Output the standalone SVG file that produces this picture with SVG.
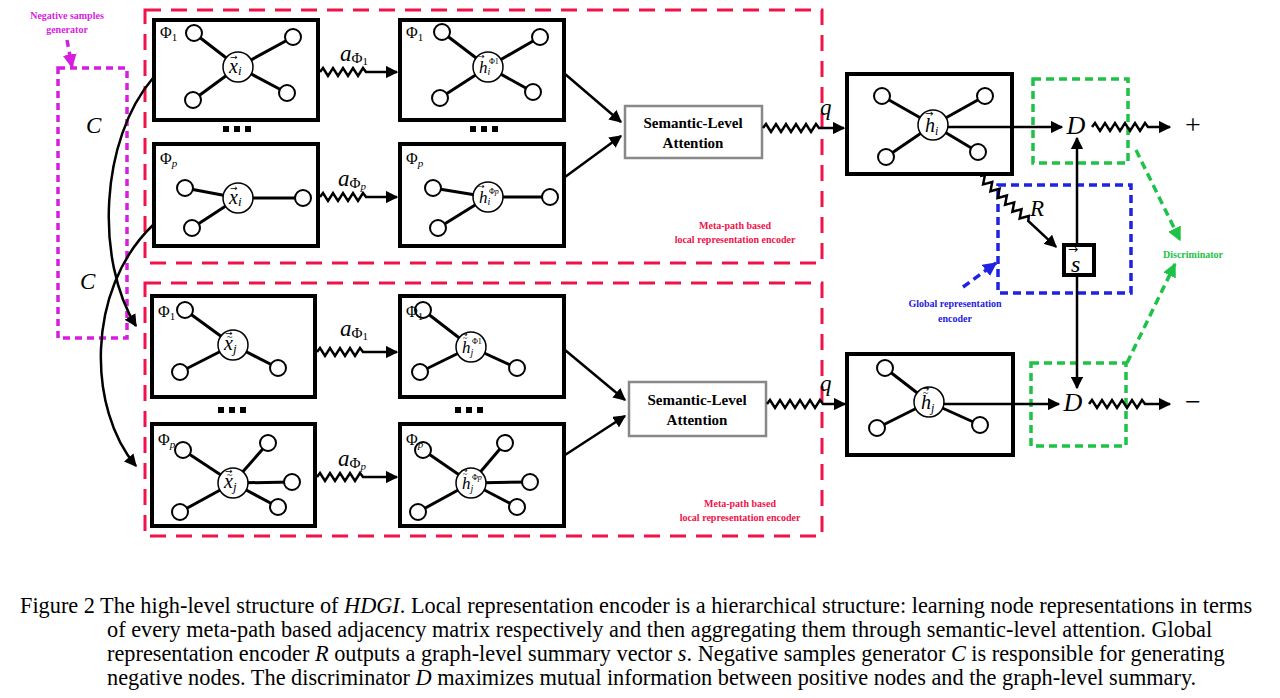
<svg xmlns="http://www.w3.org/2000/svg" width="1280" height="698" viewBox="0 0 1280 698">
<defs>
<marker id="ah" viewBox="0 0 10 10" refX="9" refY="5" markerWidth="5" markerHeight="5" orient="auto"><path d="M0,0 L10,5 L0,10 z" fill="#000"/></marker>
<marker id="ahb" viewBox="0 0 10 10" refX="9" refY="5" markerWidth="4" markerHeight="4" orient="auto"><path d="M0,0 L10,5 L0,10 z" fill="#1f22e0"/></marker>
<marker id="ahg" viewBox="0 0 10 10" refX="9" refY="5" markerWidth="4" markerHeight="4" orient="auto"><path d="M0,0 L10,5 L0,10 z" fill="#1ec247"/></marker>
<marker id="ahm" viewBox="0 0 10 10" refX="9" refY="5" markerWidth="4" markerHeight="4" orient="auto"><path d="M0,0 L10,5 L0,10 z" fill="#d61ee0"/></marker>
</defs>
<style>
.box{fill:#fff;stroke:#000;stroke-width:4}
.e{stroke:#000;stroke-width:3}
.n{fill:#fff;stroke:#000;stroke-width:2}
.c{fill:#fff;stroke:#000;stroke-width:1.5}
.red{fill:none;stroke:#f0124a;stroke-width:3;stroke-dasharray:16,10}
.grn{fill:none;stroke:#1ec247;stroke-width:3.5;stroke-dasharray:8,5}
.blu{fill:none;stroke:#1f22e0;stroke-width:3.5;stroke-dasharray:8,5}
.mag{fill:none;stroke:#d61ee0;stroke-width:3.5;stroke-dasharray:7,5}
.ln{fill:none;stroke:#000;stroke-width:2.5}
.m{font-family:"Liberation Serif",serif;font-style:italic;fill:#000}
.r{font-family:"Liberation Serif",serif;font-style:normal;fill:#000}
.v{font-family:"DejaVu Sans",sans-serif;fill:#000}
.lbl{font-family:"Liberation Serif",serif;font-weight:bold;font-size:10px;text-anchor:middle}
.att{fill:#fff;stroke:#888;stroke-width:2.5}
.attt{font-family:"Liberation Serif",serif;font-weight:bold;font-size:15px;text-anchor:middle}
.cap{font-family:"Liberation Serif",serif;font-size:22.3px;fill:#000}
.dot{fill:#000}
</style>

<g id="regions">
<rect class="red" x="145" y="10" width="677" height="253"/>
<rect class="red" x="145" y="283" width="677" height="253"/>
<text class="lbl" fill="#f0124a" x="735" y="229">Meta-path based</text>
<text class="lbl" fill="#f0124a" x="735" y="243">local representation encoder</text>
<text class="lbl" fill="#f0124a" x="740" y="507">Meta-path based</text>
<text class="lbl" fill="#f0124a" x="740" y="521">local representation encoder</text>
<rect class="mag" x="58" y="68" width="69" height="270"/>
<text class="lbl" fill="#d61ee0" x="67" y="19">Negative samples</text>
<text class="lbl" fill="#d61ee0" x="67" y="33">generator</text>
<rect class="grn" x="1033" y="79" width="95" height="84"/>
<rect class="grn" x="1031" y="363" width="95" height="83"/>
<rect class="blu" x="998" y="185" width="133" height="108"/>
<text class="lbl" fill="#1f22e0" x="955" y="307">Global representation</text>
<text class="lbl" fill="#1f22e0" x="955" y="322">encoder</text>
<text class="lbl" fill="#1ec247" x="1193" y="258">Discriminator</text>
</g>

<g id="box_xi_1">
<rect class="box" x="154" y="20" width="164" height="100"/>
<line class="e" x1="238" y1="67" x2="194" y2="33"/><line class="e" x1="238" y1="67" x2="293" y2="37"/><line class="e" x1="238" y1="67" x2="193" y2="100"/><line class="e" x1="238" y1="67" x2="287" y2="93"/>
<circle class="n" cx="194" cy="33" r="8"/><circle class="n" cx="293" cy="37" r="8"/><circle class="n" cx="193" cy="100" r="8"/><circle class="n" cx="287" cy="93" r="8"/>
<circle class="c" cx="238" cy="67" r="15"/>
<text class="m" x="229" y="73" font-size="20">x<tspan font-size="13" dy="2">i</tspan></text><text class="v" x="230" y="60" font-size="9">→</text>
<text class="r" x="160" y="38" font-size="16">Φ<tspan font-size="11" dy="3">1</tspan></text>
</g>
<g id="box_xi_p">
<rect class="box" x="154" y="144" width="164" height="102"/>
<line class="e" x1="238" y1="198" x2="185" y2="188"/><line class="e" x1="238" y1="198" x2="192" y2="228"/><line class="e" x1="238" y1="198" x2="303" y2="198"/>
<circle class="n" cx="185" cy="188" r="8"/><circle class="n" cx="192" cy="228" r="8"/><circle class="n" cx="303" cy="198" r="8"/>
<circle class="c" cx="238" cy="198" r="15"/>
<text class="m" x="229" y="204" font-size="20">x<tspan font-size="13" dy="2">i</tspan></text><text class="v" x="230" y="191" font-size="9">→</text>
<text class="r" x="160" y="164" font-size="16">Φ<tspan class="m" font-size="11" dy="3">p</tspan></text>
</g>
<g id="box_hi_1">
<rect class="box" x="400" y="20" width="164" height="100"/>
<line class="e" x1="488" y1="67" x2="442" y2="32"/><line class="e" x1="488" y1="67" x2="540" y2="37"/><line class="e" x1="488" y1="67" x2="440" y2="98"/><line class="e" x1="488" y1="67" x2="533" y2="92"/>
<circle class="n" cx="442" cy="32" r="8"/><circle class="n" cx="540" cy="37" r="8"/><circle class="n" cx="440" cy="98" r="8"/><circle class="n" cx="533" cy="92" r="8"/>
<circle class="c" cx="488" cy="67" r="15"/>
<text class="m" x="479" y="73" font-size="17">h<tspan font-size="10" dy="2">i</tspan></text><text class="r" x="489" y="64" font-size="8">Φ1</text><text class="v" x="478" y="59" font-size="8">→</text>
<text class="r" x="406" y="38" font-size="16">Φ<tspan font-size="11" dy="3">1</tspan></text>
</g>
<g id="box_hi_p">
<rect class="box" x="400" y="144" width="164" height="102"/>
<line class="e" x1="488" y1="197" x2="433" y2="188"/><line class="e" x1="488" y1="197" x2="438" y2="228"/><line class="e" x1="488" y1="197" x2="550" y2="197"/>
<circle class="n" cx="433" cy="188" r="8"/><circle class="n" cx="438" cy="228" r="8"/><circle class="n" cx="550" cy="197" r="8"/>
<circle class="c" cx="488" cy="197" r="15"/>
<text class="m" x="479" y="203" font-size="17">h<tspan font-size="10" dy="2">i</tspan></text><text class="r" x="489" y="194" font-size="8">Φ<tspan class="m">p</tspan></text><text class="v" x="478" y="189" font-size="8">→</text>
<text class="r" x="406" y="164" font-size="16">Φ<tspan class="m" font-size="11" dy="3">p</tspan></text>
</g>
<g id="dots_top">
<rect class="dot" x="223" y="126" width="6" height="6"/><rect class="dot" x="234" y="126" width="6" height="6"/><rect class="dot" x="245" y="126" width="6" height="6"/>
<rect class="dot" x="470" y="126" width="6" height="6"/><rect class="dot" x="481" y="126" width="6" height="6"/><rect class="dot" x="492" y="126" width="6" height="6"/>
</g>
<g id="att_top"><rect class="att" x="625" y="106" width="137" height="52"/><text class="attt" x="693" y="128">Semantic-Level</text><text class="attt" x="693" y="148">Attention</text></g>

<g id="box_xj_1">
<rect class="box" x="152" y="296" width="163" height="101"/>
<line class="e" x1="233" y1="345" x2="185" y2="310"/><line class="e" x1="233" y1="345" x2="180" y2="372"/><line class="e" x1="233" y1="345" x2="278" y2="368"/>
<circle class="n" cx="185" cy="310" r="8"/><circle class="n" cx="180" cy="372" r="8"/><circle class="n" cx="278" cy="368" r="8"/>
<circle class="c" cx="233" cy="345" r="15"/>
<text class="m" x="224" y="350" font-size="20">x<tspan font-size="13" dy="3">j</tspan></text><text class="v" x="225" y="336" font-size="9">→</text><text class="r" x="227" y="340" font-size="10">~</text>
<text class="r" x="158" y="317" font-size="16">Φ<tspan font-size="11" dy="3">1</tspan></text>
</g>
<g id="box_xj_p">
<rect class="box" x="152" y="424" width="163" height="102"/>
<line class="e" x1="233" y1="483" x2="183" y2="450"/><line class="e" x1="233" y1="483" x2="268" y2="443"/><line class="e" x1="233" y1="483" x2="292" y2="482"/><line class="e" x1="233" y1="483" x2="278" y2="507"/><line class="e" x1="233" y1="483" x2="180" y2="512"/>
<circle class="n" cx="183" cy="450" r="8"/><circle class="n" cx="268" cy="443" r="8"/><circle class="n" cx="292" cy="482" r="8"/><circle class="n" cx="278" cy="507" r="8"/><circle class="n" cx="180" cy="512" r="8"/>
<circle class="c" cx="233" cy="483" r="15"/>
<text class="m" x="224" y="488" font-size="20">x<tspan font-size="13" dy="3">j</tspan></text><text class="v" x="225" y="474" font-size="9">→</text><text class="r" x="227" y="478" font-size="10">~</text>
<text class="r" x="158" y="445" font-size="16">Φ<tspan class="m" font-size="11" dy="3">p</tspan></text>
</g>
<g id="box_hj_1">
<rect class="box" x="400" y="296" width="164" height="101"/>
<line class="e" x1="471" y1="347" x2="423" y2="310"/><line class="e" x1="471" y1="347" x2="420" y2="372"/><line class="e" x1="471" y1="347" x2="517" y2="368"/>
<circle class="n" cx="423" cy="310" r="8"/><circle class="n" cx="420" cy="372" r="8"/><circle class="n" cx="517" cy="368" r="8"/>
<circle class="c" cx="471" cy="347" r="15"/>
<text class="m" x="462" y="353" font-size="17">h<tspan font-size="10" dy="3">j</tspan></text><text class="r" x="472" y="344" font-size="8">Φ1</text><text class="v" x="461" y="337" font-size="8">→</text><text class="r" x="463" y="341" font-size="8">~</text>
<text class="r" x="406" y="317" font-size="16">Φ<tspan font-size="11" dy="3">1</tspan></text>
</g>
<g id="box_hj_p">
<rect class="box" x="400" y="424" width="164" height="102"/>
<line class="e" x1="471" y1="483" x2="423" y2="450"/><line class="e" x1="471" y1="483" x2="505" y2="443"/><line class="e" x1="471" y1="483" x2="530" y2="482"/><line class="e" x1="471" y1="483" x2="517" y2="507"/><line class="e" x1="471" y1="483" x2="418" y2="512"/>
<circle class="n" cx="423" cy="450" r="8"/><circle class="n" cx="505" cy="443" r="8"/><circle class="n" cx="530" cy="482" r="8"/><circle class="n" cx="517" cy="507" r="8"/><circle class="n" cx="418" cy="512" r="8"/>
<circle class="c" cx="471" cy="483" r="15"/>
<text class="m" x="462" y="489" font-size="17">h<tspan font-size="10" dy="3">j</tspan></text><text class="r" x="472" y="480" font-size="8">Φ<tspan class="m">p</tspan></text><text class="v" x="461" y="473" font-size="8">→</text><text class="r" x="463" y="477" font-size="8">~</text>
<text class="r" x="406" y="445" font-size="16">Φ<tspan class="m" font-size="11" dy="3">p</tspan></text>
</g>
<g id="dots_bottom">
<rect class="dot" x="218" y="407" width="6" height="6"/><rect class="dot" x="229" y="407" width="6" height="6"/><rect class="dot" x="240" y="407" width="6" height="6"/>
<rect class="dot" x="455" y="407" width="6" height="6"/><rect class="dot" x="466" y="407" width="6" height="6"/><rect class="dot" x="477" y="407" width="6" height="6"/>
</g>
<g id="att_bottom"><rect class="att" x="629" y="382" width="137" height="54"/><text class="attt" x="697" y="405">Semantic-Level</text><text class="attt" x="697" y="425">Attention</text></g>

<g id="box_hi">
<rect class="box" x="847" y="74" width="165" height="100"/>
<line class="e" x1="933" y1="125" x2="882" y2="96"/><line class="e" x1="933" y1="125" x2="985" y2="96"/><line class="e" x1="933" y1="125" x2="886" y2="157"/><line class="e" x1="933" y1="125" x2="978" y2="152"/>
<circle class="n" cx="882" cy="96" r="8"/><circle class="n" cx="985" cy="96" r="8"/><circle class="n" cx="886" cy="157" r="8"/><circle class="n" cx="978" cy="152" r="8"/>
<circle class="c" cx="933" cy="125" r="15"/>
<text class="m" x="925" y="132" font-size="20">h<tspan font-size="12" dy="3">i</tspan></text><text class="v" x="925" y="117" font-size="10">→</text>
</g>
<g id="box_hj">
<rect class="box" x="847" y="354" width="166" height="101"/>
<line class="e" x1="929" y1="402" x2="885" y2="368"/><line class="e" x1="929" y1="402" x2="980" y2="425"/><line class="e" x1="929" y1="402" x2="877" y2="428"/>
<circle class="n" cx="885" cy="368" r="8"/><circle class="n" cx="980" cy="425" r="8"/><circle class="n" cx="877" cy="428" r="8"/>
<circle class="c" cx="929" cy="402" r="15"/>
<text class="m" x="921" y="409" font-size="20">h<tspan font-size="12" dy="3">j</tspan></text><text class="v" x="921" y="392" font-size="10">→</text><text class="r" x="923" y="396" font-size="10">~</text>
</g>
<g id="summary">
<rect class="box" x="1064" y="245" width="30" height="30" stroke-width="3.5"/>
<text class="m" x="1071" y="272" font-size="24">s</text><text class="v" x="1068" y="253" font-size="12">→</text>
</g>
<g id="discriminators">
<text class="m" x="1076" y="134" font-size="26" text-anchor="middle">D</text>
<text class="m" x="1073" y="411" font-size="26" text-anchor="middle">D</text>
<text class="r" x="1193" y="134" font-size="28" text-anchor="middle">+</text>
<text class="r" x="1193" y="411" font-size="28" text-anchor="middle">−</text>
</g>

<g id="connectors">
<path class="ln" d="M320,72 l3,-4 l5,8 l5,-8 l5,8 l5,-8 l5,8 l5,-8 l5,8 l5,-8 l3,4 L397,72" marker-end="url(#ah)"/>
<path class="ln" d="M320,197 l3,-4 l5,8 l5,-8 l5,8 l5,-8 l5,8 l5,-8 l5,8 l5,-8 l3,4 L397,197" marker-end="url(#ah)"/>
<path class="ln" d="M317,352 l3,-4 l5,8 l5,-8 l5,8 l5,-8 l5,8 l5,-8 l5,8 l5,-8 l3,4 L397,352" marker-end="url(#ah)"/>
<path class="ln" d="M317,477 l3,-4 l5,8 l5,-8 l5,8 l5,-8 l5,8 l5,-8 l5,8 l5,-8 l3,4 L397,477" marker-end="url(#ah)"/>
<text class="m" x="340" y="61" font-size="23">a<tspan class="r" font-size="15" dy="2">Φ</tspan><tspan class="r" font-size="11" dy="2">1</tspan></text>
<text class="m" x="338" y="186" font-size="23">a<tspan class="r" font-size="15" dy="2">Φ</tspan><tspan font-size="11" dy="2">p</tspan></text>
<text class="m" x="340" y="336" font-size="23">a<tspan class="r" font-size="15" dy="2">Φ</tspan><tspan class="r" font-size="11" dy="2">1</tspan></text>
<text class="m" x="338" y="466" font-size="23">a<tspan class="r" font-size="15" dy="2">Φ</tspan><tspan font-size="11" dy="2">p</tspan></text>
<line class="ln" x1="565" y1="74" x2="621" y2="122" marker-end="url(#ah)"/>
<line class="ln" x1="565" y1="177" x2="621" y2="136" marker-end="url(#ah)"/>
<line class="ln" x1="565" y1="350" x2="625" y2="400" marker-end="url(#ah)"/>
<line class="ln" x1="565" y1="455" x2="625" y2="416" marker-end="url(#ah)"/>
<path class="ln" d="M763,128 l3,-4 l5,8 l5,-8 l5,8 l5,-8 l5,8 l5,-8 l5,8 l5,-8 l5,8 l5,-8 l3,4 L844,128" marker-end="url(#ah)"/>
<path class="ln" d="M767,404 l3,-4 l5,8 l5,-8 l5,8 l5,-8 l5,8 l5,-8 l5,8 l5,-8 l5,8 l5,-8 l3,4 L845,404" marker-end="url(#ah)"/>
<text class="m" x="820" y="115" font-size="23">q</text>
<text class="m" x="820" y="391" font-size="23">q</text>
<line class="ln" x1="947" y1="127" x2="1062" y2="127" marker-end="url(#ah)"/>
<line class="ln" x1="943" y1="404" x2="1059" y2="404" marker-end="url(#ah)"/>
<path class="ln" d="M1092,127 l3,-4 l5,8 l5,-8 l5,8 l5,-8 l5,8 l5,-8 l5,8 l5,-8 l5,8 l5,-8 l3,4 L1170,127" marker-end="url(#ah)"/>
<path class="ln" d="M1089,404 l3,-4 l5,8 l5,-8 l5,8 l5,-8 l5,8 l5,-8 l5,8 l5,-8 l5,8 l5,-8 l3,4 L1170,404" marker-end="url(#ah)"/>
<line class="ln" x1="1077" y1="244" x2="1077" y2="138" marker-end="url(#ah)"/>
<line class="ln" x1="1077" y1="276" x2="1077" y2="388" marker-end="url(#ah)"/>
<path class="ln" transform="rotate(43 980 176)" d="M980,176 l3,-4 l5,8 l5,-8 l5,8 l5,-8 l5,8 l5,-8 l5,8 l5,-8 l5,8 l5,-8 l5,8 l5,-8 l3,4 L1084,176" marker-end="url(#ah)"/>
<text class="m" x="1030" y="216" font-size="23">R</text>
<path class="ln" d="M153,78 C100,140 95,260 136,326" marker-end="url(#ah)"/>
<path class="ln" d="M153,225 C85,290 88,410 136,466" marker-end="url(#ah)"/>
<text class="m" x="86" y="133" font-size="23">C</text>
<text class="m" x="80" y="289" font-size="23">C</text>
<line class="mag" x1="67" y1="40" x2="72" y2="67" marker-end="url(#ahm)"/>
<line class="blu" x1="963" y1="287" x2="996" y2="263" marker-end="url(#ahb)"/>
<line class="grn" x1="1136" y1="150" x2="1180" y2="240" marker-end="url(#ahg)"/>
<line class="grn" x1="1127" y1="363" x2="1175" y2="264" marker-end="url(#ahg)"/>
</g>

<g id="caption">
<text class="cap" x="20" y="613">Figure 2 The high-level structure of <tspan font-style="italic">HDGI</tspan>. Local representation encoder is a hierarchical structure: learning node representations in terms</text>
<text class="cap" x="107" y="637">of every meta-path based adjacency matrix respectively and then aggregating them through semantic-level attention. Global</text>
<text class="cap" x="107" y="661">representation encoder <tspan font-style="italic">R</tspan> outputs a graph-level summary vector <tspan font-style="italic">s</tspan>. Negative samples generator <tspan font-style="italic">C</tspan> is responsible for generating</text>
<text class="cap" x="107" y="685">negative nodes. The discriminator <tspan font-style="italic">D</tspan> maximizes mutual information between positive nodes and the graph-level summary.</text>
</g>
</svg>
